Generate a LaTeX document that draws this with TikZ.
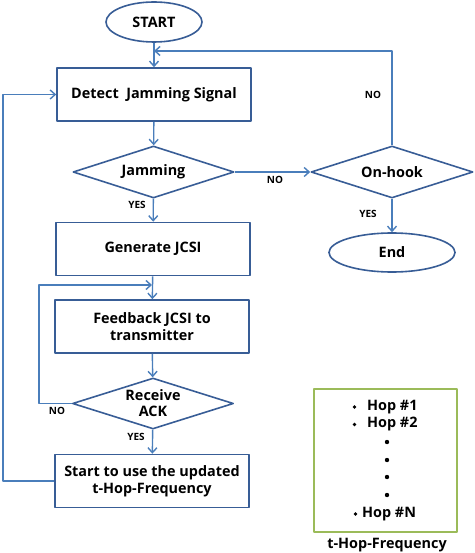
\documentclass[tikz,border=0pt]{standalone}
\usepackage{fontspec}
\setsansfont{Open Sans}
\usetikzlibrary{shapes.geometric,arrows.meta}
\definecolor{boxblue}{RGB}{56,93,150}
\definecolor{lineblue}{RGB}{74,126,187}
\definecolor{hopgreen}{RGB}{155,187,89}
\begin{document}
\begin{tikzpicture}[x=1pt, y=-1pt, font=\sffamily\bfseries, line join=round,
	stepbox/.style={draw=boxblue, line width=1.6pt, rectangle, minimum width=194pt, minimum height=53pt, align=center, inner sep=0pt, font=\sffamily\bfseries\fontsize{14.4}{17}\selectfont},
	test/.style={draw=boxblue, line width=1.6pt, diamond, shape aspect=3.14, minimum width=161pt, minimum height=52pt, align=center, inner sep=0pt, font=\sffamily\bfseries\fontsize{14.4}{16}\selectfont},
	term/.style={draw=boxblue, line width=1.6pt, ellipse, inner sep=0pt, font=\sffamily\bfseries\fontsize{14.4}{17}\selectfont},
	flow/.style={draw=lineblue, line width=1.4pt, -{Straight Barb[length=5pt,width=9pt]}},
	tag/.style={font=\sffamily\bfseries\fontsize{10}{11}\selectfont, inner sep=1pt},
	hop/.style={font=\sffamily\bfseries\fontsize{14.4}{17}\selectfont, inner sep=0pt, anchor=west}]
	\useasboundingbox (0,0) rectangle (474,553);
	% main column
	\node[term, minimum width=96pt, minimum height=40pt] (start) at (154,22) {START};
	\node[stepbox] (detect) at (154,94.5) {Detect~~Jamming Signal};
	\node[test] (jam) at (153.5,172) {Jamming};
	\node[stepbox] (gen) at (153,249) {Generate JCSI};
	\node[stepbox] (feed) at (152,326.5) {Feedback JCSI to\\transmitter};
	\node[test, minimum height=51pt] (ack) at (153,403.5) {Receive\\ACK};
	\node[stepbox] (use) at (152,481) {Start to use the updated\\t-Hop-Frequency};
	% right column
	\node[test, minimum width=162pt] (onhook) at (392,172) {On-hook};
	\node[term, minimum width=126pt, minimum height=39pt] (end) at (392,252.5) {End};
	\coordinate (merge) at (154,51);
	\coordinate (retry) at (152,285);
	\draw[flow] (start) -- (detect);
	\draw[flow] (detect) -- (jam);
	\draw[flow] (jam) -- (gen);
	\draw[flow] (gen) -- (feed);
	\draw[flow] (feed) -- (ack);
	\draw[flow] (ack) -- (use);
	\draw[flow] (jam.east) -- (onhook.west);
	\draw[flow] (onhook.north) |- (merge);
	\draw[flow] (onhook) -- (end);
	\draw[flow] (ack.west) -- (39,403.5) |- (retry);
	\draw[flow] (use.west) -- (3,481) |- (detect.west);
	\node[tag] (jamno) at (275,180) {NO};
	\node[tag] (jamyes) at (137,205) {YES};
	\node[tag] (hookno) at (373,95) {NO};
	\node[tag] (hookyes) at (368,214) {YES};
	\node[tag] (ackno) at (57,411) {NO};
	\node[tag] (ackyes) at (136,437) {YES};
	% hop list
	\node[draw=hopgreen, line width=1.6pt, minimum width=143pt, minimum height=143pt, inner sep=0pt] (hops) at (385.5,460.5) {};
	\fill (354.5,407) circle(1.8pt) (354.5,424.5) circle(1.8pt) (355.5,514) circle(1.8pt);
	\node[hop] (hop1) at (367,407) {Hop \#1};
	\node[hop] (hop2) at (367,424.5) {Hop \#2};
	\foreach \y in {442,460,477,495}
		\fill (387,\y) circle(2.2pt);
	\node[hop] (hopn) at (362,514) {Hop \#N};
	\node[font=\sffamily\bfseries\fontsize{14.4}{17}\selectfont, inner sep=0pt] (caption) at (387,545) {t-Hop-Frequency};
\end{tikzpicture}
\end{document}
